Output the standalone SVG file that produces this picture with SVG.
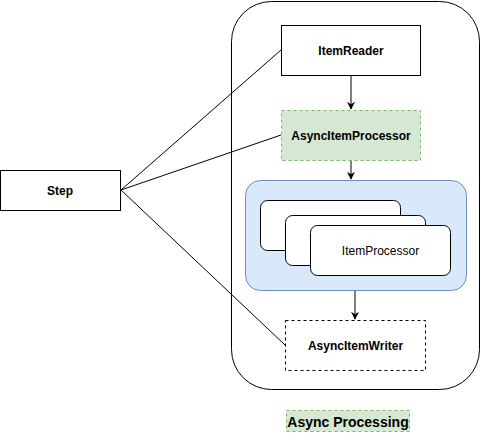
<svg xmlns="http://www.w3.org/2000/svg" width="481" height="441" viewBox="0 0 481 441">
<defs>
<marker id="arr" viewBox="0 0 10 10" refX="9" refY="5" markerWidth="8" markerHeight="8" markerUnits="userSpaceOnUse" orient="auto"><path d="M0,0 L10,5 L0,10 L3,5 Z" fill="#000"/></marker>
</defs>
<style>
text{font-family:"Liberation Sans",Arial,sans-serif;font-size:12px;text-anchor:middle;dominant-baseline:central;fill:#000}
.b{font-weight:bold}
.box{fill:#fff;stroke:#000;stroke-width:1}
.green{fill:#d5e8d4;stroke:#82b366;stroke-dasharray:3 3}
.dash{fill:#fff;stroke:#000;stroke-dasharray:3 3}
.edge{fill:none;stroke:#000;stroke-width:1}
</style>
<rect x="231.5" y="1.5" width="248" height="388" rx="40" fill="#fff" stroke="#000"/>
<g id="connectors">
<line class="edge" x1="121" y1="190" x2="281" y2="50"/>
<line class="edge" x1="121" y1="190" x2="281" y2="135"/>
<line class="edge" x1="121" y1="190" x2="285" y2="345"/>
<line class="edge" x1="351" y1="75" x2="351" y2="109" marker-end="url(#arr)"/>
<line class="edge" x1="351" y1="160" x2="351" y2="179" marker-end="url(#arr)"/>
<line class="edge" x1="355" y1="290" x2="355" y2="319" marker-end="url(#arr)"/>
</g>
<g id="step"><rect class="box" x="0.5" y="170.5" width="120" height="40"/><text class="b" x="60" y="190.5">Step</text></g>
<g id="itemreader"><rect class="box" x="281.5" y="25.5" width="139" height="50"/><text class="b" x="351" y="50.5">ItemReader</text></g>
<g id="asyncitemprocessor"><rect class="green" x="281.5" y="110.5" width="139" height="50"/><text class="b" x="351" y="135.5">AsyncItemProcessor</text></g>
<g id="processors">
<rect x="245.5" y="180.5" width="221" height="110" rx="15" fill="#dae8fc" stroke="#6c8ebf"/>
<rect class="box" x="260.5" y="200.5" width="140" height="50" rx="7"/>
<rect class="box" x="285.5" y="215.5" width="140" height="50" rx="7"/>
<rect class="box" x="310.5" y="225.5" width="140" height="50" rx="7"/>
<text x="380.5" y="250.5">ItemProcessor</text>
</g>
<g id="asyncitemwriter"><rect class="dash" x="285.5" y="320.5" width="140" height="50"/><text class="b" x="355.5" y="345.5">AsyncItemWriter</text></g>
<g id="label"><rect class="green" x="286.5" y="410.5" width="123" height="21"/><text class="b" x="348" y="421.5" style="font-size:14px">Async Processing</text></g>
</svg>
